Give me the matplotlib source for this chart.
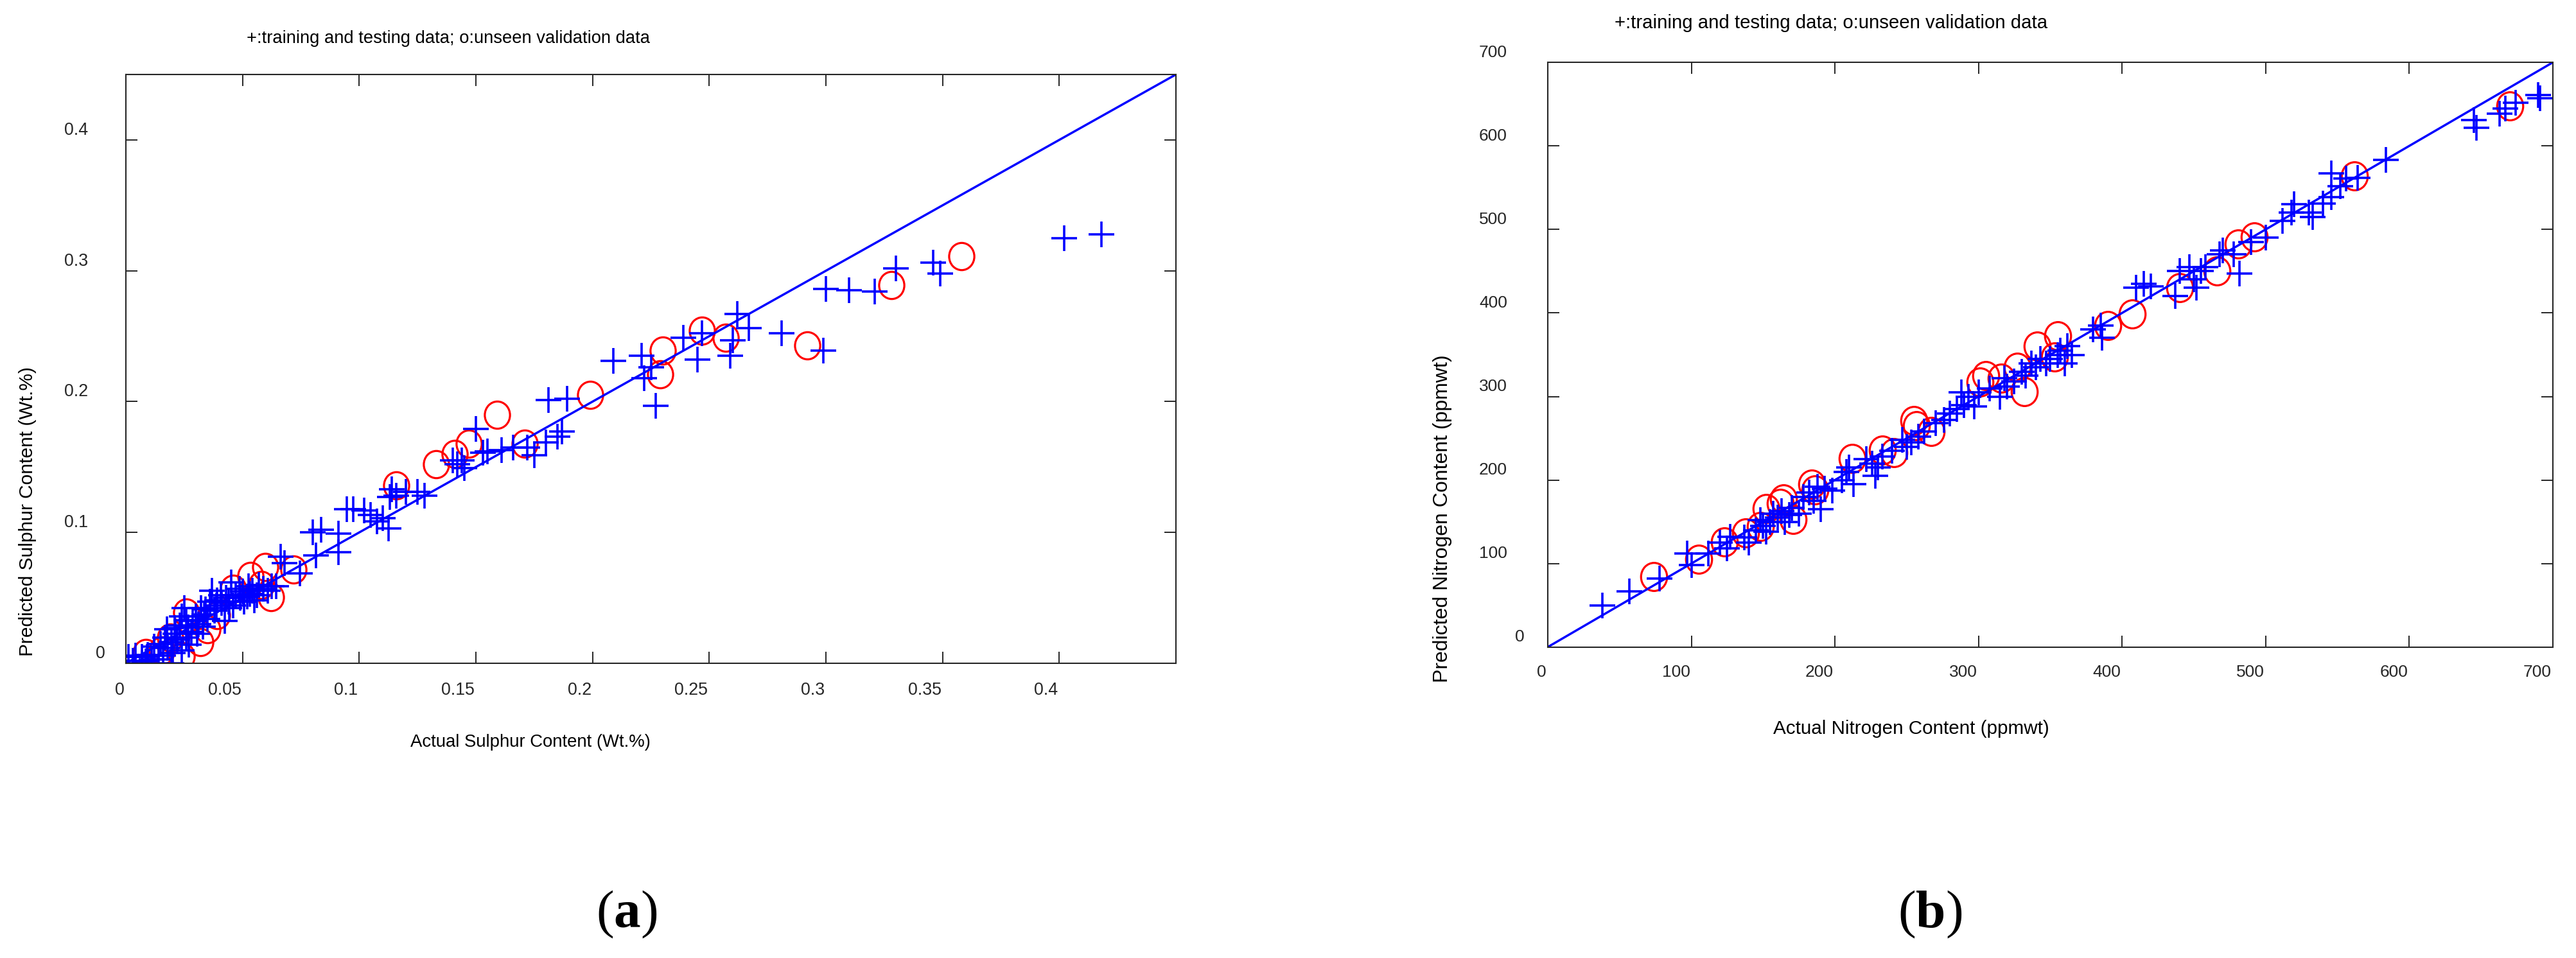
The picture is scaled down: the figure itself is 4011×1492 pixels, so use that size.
import numpy as np
import matplotlib
matplotlib.use("Agg")
import matplotlib.pyplot as plt
from matplotlib.path import Path
from matplotlib.transforms import Affine2D, ScaledTranslation

# ---- (a) sulphur content, Wt.% ----
s_train_actual = [
    0.001, 0.003, 0.004, 0.007, 0.007, 0.009, 0.0084, 0.011, 0.0094, 0.012, 0.014, 0.015,
    0.0167, 0.0176, 0.0195, 0.020, 0.0213, 0.0231, 0.024, 0.025, 0.0259, 0.0268, 0.0286,
    0.0305, 0.0323, 0.0337, 0.035, 0.036, 0.0369, 0.0387, 0.0406, 0.0424, 0.0442, 0.0452,
    0.047, 0.0488, 0.0507, 0.0525, 0.0543, 0.0562, 0.059, 0.0608, 0.0626, 0.0644, 0.0663,
    0.068, 0.0745, 0.018, 0.022, 0.028, 0.030, 0.033, 0.038, 0.041, 0.043, 0.046, 0.049,
    0.052, 0.055, 0.057, 0.024, 0.027, 0.016, 0.0195, 0.021, 0.026, 0.031, 0.034, 0.039,
    0.044, 0.050, 0.053,
    0.080, 0.0837, 0.091, 0.091, 0.0814, 0.0947, 0.0975, 0.102, 0.105, 0.1076, 0.110,
    0.1126, 0.114, 0.116, 0.120, 0.125, 0.128, 0.113, 0.140, 0.142, 0.144, 0.145, 0.150,
    0.153, 0.155, 0.161, 0.166, 0.172, 0.175, 0.180, 0.181, 0.189, 0.185, 0.187, 0.209,
    0.221, 0.222, 0.227, 0.225, 0.239, 0.245, 0.247, 0.259, 0.260, 0.262, 0.267, 0.281,
    0.299, 0.300, 0.310, 0.321, 0.330, 0.346, 0.349, 0.402, 0.418,
]
s_train_pred = [
    0.005, 0.002, 0.006, 0.000, 0.005, 0.005, 0.0015, 0.003, 0.0064, 0.013, 0.003, 0.0146,
    0.0195, 0.026, 0.016, 0.008, 0.0227, 0.029, 0.036, 0.042, 0.0195, 0.0276, 0.0325,
    0.0227, 0.042, 0.0375, 0.034, 0.047, 0.0554, 0.044, 0.052, 0.0325, 0.042, 0.062,
    0.052, 0.057, 0.047, 0.0589, 0.0554, 0.052, 0.057, 0.0554, 0.0589, 0.0589, 0.0816,
    0.0767, 0.0685, 0.012, 0.018, 0.024, 0.036, 0.028, 0.040, 0.046, 0.050, 0.044, 0.050,
    0.051, 0.048, 0.060, 0.010, 0.014, 0.006, 0.000, 0.027, 0.033, 0.030, 0.041, 0.048,
    0.047, 0.055, 0.053,
    0.100, 0.102, 0.099, 0.085, 0.0824, 0.118, 0.118, 0.117, 0.1135, 0.1086, 0.111,
    0.1029, 0.133, 0.128, 0.131, 0.131, 0.128, 0.127, 0.155, 0.152, 0.155, 0.149, 0.179,
    0.161, 0.162, 0.163, 0.165, 0.165, 0.159, 0.169, 0.201, 0.202, 0.173, 0.177, 0.231,
    0.235, 0.218, 0.197, 0.226, 0.249, 0.232, 0.252, 0.235, 0.247, 0.267, 0.256, 0.252,
    0.239, 0.286, 0.285, 0.284, 0.302, 0.306, 0.298, 0.325, 0.328,
]
s_valid_actual = [
    0.0084, 0.0153, 0.019, 0.024, 0.026, 0.032, 0.035, 0.039, 0.046, 0.0534, 0.058,
    0.0598, 0.0621, 0.0718, 0.116, 0.133, 0.141, 0.147, 0.159, 0.171, 0.199, 0.229,
    0.230, 0.247, 0.257, 0.292, 0.328, 0.358,
]
s_valid_pred = [
    0.008, 0.0097, 0.0195, 0.0056, 0.039, 0.016, 0.026, 0.037, 0.057, 0.0669, 0.060,
    0.0734, 0.0505, 0.0718, 0.136, 0.152, 0.160, 0.168, 0.190, 0.168, 0.205, 0.221,
    0.239, 0.254, 0.249, 0.243, 0.289, 0.311,
]
s_xticks = [0, 0.05, 0.1, 0.15, 0.2, 0.25, 0.3, 0.35, 0.4]
s_xticklabels = ["0", "0.05", "0.1", "0.15", "0.2", "0.25", "0.3", "0.35", "0.4"]
s_yticks = [0, 0.1, 0.2, 0.3, 0.4]
s_yticklabels = ["0", "0.1", "0.2", "0.3", "0.4"]
s_lim = [0, 0.45]

# ---- (b) nitrogen content, ppmwt ----
n_train_actual = [
    38, 57, 78, 97, 100, 112, 120, 125, 127, 137, 140, 145, 148, 150, 152, 155, 157, 160,
    163, 165, 168, 170, 175, 178, 182, 185, 188, 190, 193, 198, 205, 208, 210, 213, 222,
    226, 228, 230, 233, 240, 247, 250, 253, 258, 262, 270, 276, 280, 285, 288, 290, 293,
    297, 300, 308, 315, 318, 320, 325, 330, 333, 337, 340, 343, 347, 350, 355, 357, 360,
    362, 365, 380, 385, 386, 410, 415, 420, 437, 440, 447, 450, 452, 455, 458, 468, 470,
    478, 482, 490, 500, 512, 518, 520, 530, 533, 540, 546, 546, 552, 556, 564, 584, 645,
    647, 663, 667, 674, 690, 691,
]
n_train_pred = [
    50, 67, 82, 112, 98, 112, 125, 118, 132, 131, 125, 140, 152, 145, 138, 150, 160, 155,
    163, 150, 158, 167, 160, 180, 185, 175, 192, 165, 190, 187, 200, 210, 215, 195, 225,
    220, 205, 215, 228, 235, 248, 240, 245, 252, 258, 268, 272, 280, 285, 305, 290, 300,
    288, 305, 310, 300, 322, 312, 318, 330, 325, 340, 335, 345, 340, 345, 350, 355, 340,
    360, 350, 380, 385, 370, 430, 435, 432, 420, 450, 455, 440, 430, 450, 455, 470, 475,
    470, 447, 485, 490, 510, 520, 530, 520, 515, 531, 539, 567, 552, 561, 562, 583, 631,
    622, 639, 645, 652, 661, 657,
]
n_valid_actual = [
    74, 105, 123, 138, 148, 152, 162, 164, 171, 184, 186, 212, 233, 241, 255, 257, 267,
    301, 305, 316, 327, 332, 341, 355, 353, 390, 407, 440, 466, 481, 492, 562, 670,
]
n_valid_pred = [
    84, 105, 126, 137, 144, 166, 172, 177, 153, 195, 188, 226, 236, 233, 271, 265, 258,
    317, 325, 322, 335, 306, 360, 373, 347, 385, 399, 430, 450, 483, 491, 564, 648,
]
n_ticks = [0, 100, 200, 300, 400, 500, 600, 700]
n_ticklabels = ["0", "100", "200", "300", "400", "500", "600", "700"]
n_lim = [0, 700]

title_text = "+:training and testing data; o:unseen validation data"
panel_letters = ["a", "b"]

W, H = 4012, 1492
DARK = "#262626"
plt.rcParams["font.family"] = ["Liberation Sans", "DejaVu Sans"]
plt.rcParams["mathtext.fontset"] = "custom"
plt.rcParams["mathtext.rm"] = "Liberation Serif"
plt.rcParams["mathtext.bf"] = "Liberation Serif:bold"

fig = plt.figure(figsize=(W / 100, H / 100), dpi=100)


def fpos(x, y):
    return x / W, 1 - y / H


def px2pt(v):
    return v * 0.72


# slightly tall circle, as in the original
ell = Path.unit_circle().transformed(Affine2D().scale(1, 1.08))


def panel(rect, tr_x, tr_y, va_x, va_y, lim, xt, xtl, yt, ytl, tick_fs, xpad, ypad, circ_ms):
    ax = fig.add_axes(rect)
    ax.plot(va_x, va_y, linestyle="none", marker=ell, ms=circ_ms, mfc="none",
            mec="red", mew=2.3)
    ax.plot(tr_x, tr_y, linestyle="none", marker="+", ms=28.5, mec="blue", mew=2.6)
    ax.plot(lim, lim, color="blue", lw=2.5)
    ax.set_xlim(lim)
    ax.set_ylim(lim)
    ax.set_xticks(xt)
    ax.set_xticklabels(xtl)
    ax.set_yticks(yt)
    ax.set_yticklabels(ytl)
    for s in ax.spines.values():
        s.set_color(DARK)
        s.set_linewidth(1.5)
    ax.tick_params(direction="in", length=13, width=1.4, color=DARK, top=True, right=True,
                   labelsize=tick_fs, labelcolor=DARK)
    ax.tick_params(axis="x", pad=xpad)
    ax.tick_params(axis="y", pad=ypad)
    for lab in ax.get_xticklabels():
        lab.set_horizontalalignment("right")
        lab.set_transform(lab.get_transform() +
                          ScaledTranslation(-2 / 100, 0, fig.dpi_scale_trans))
    for lab in ax.get_yticklabels():
        dx = 27 if lab.get_text() == "0" else 0
        lab.set_transform(lab.get_transform() +
                          ScaledTranslation(dx / 100, 18 / 100, fig.dpi_scale_trans))
    return ax


# left panel: spine box 196..1831 x 116..1033 px
panel([196 / W, 1 - 1033 / H, (1831 - 196) / W, (1033 - 116) / H],
      s_train_actual, s_train_pred, s_valid_actual, s_valid_pred, s_lim,
      s_xticks, s_xticklabels, s_yticks, s_yticklabels,
      19.3, px2pt(29), px2pt(59), 30.5)

# right panel: spine box 2410..3975 x 97..1008 px
panel([2410 / W, 1 - 1007.7 / H, (3974.7 - 2410) / W, (1007.7 - 97.3) / H],
      n_train_actual, n_train_pred, n_valid_actual, n_valid_pred, n_lim,
      n_ticks, n_ticklabels, n_ticks, n_ticklabels,
      19.0, px2pt(27), px2pt(63), 31.5)

# titles and axis labels
fig.text(*fpos(698, 67), title_text, fontsize=19.7, ha="center", va="baseline")
fig.text(*fpos(2851, 44), title_text, fontsize=21.2, ha="center", va="baseline")
fig.text(*fpos(826, 1163), "Actual Sulphur Content (Wt.%)", fontsize=19.8,
         ha="center", va="baseline")
fig.text(*fpos(2976, 1143), "Actual Nitrogen Content (ppmwt)", fontsize=21.3,
         ha="center", va="baseline")
fig.text(*fpos(43, 797), "Predicted Sulphur Content (Wt.%)", fontsize=21.5,
         rotation=90, ha="center", va="center")
fig.text(*fpos(2246, 808), "Predicted Nitrogen Content (ppmwt)", fontsize=23,
         rotation=90, ha="center", va="center")

# panel letters (a) / (b)
for x, letter in zip([976, 3005], panel_letters):
    fig.text(*fpos(x, 1424), r"$\mathrm{(}\mathbf{%s}\mathrm{)}$" % letter, fontsize=60,
             ha="center", va="center")

fig.savefig("out.png", dpi=100)
